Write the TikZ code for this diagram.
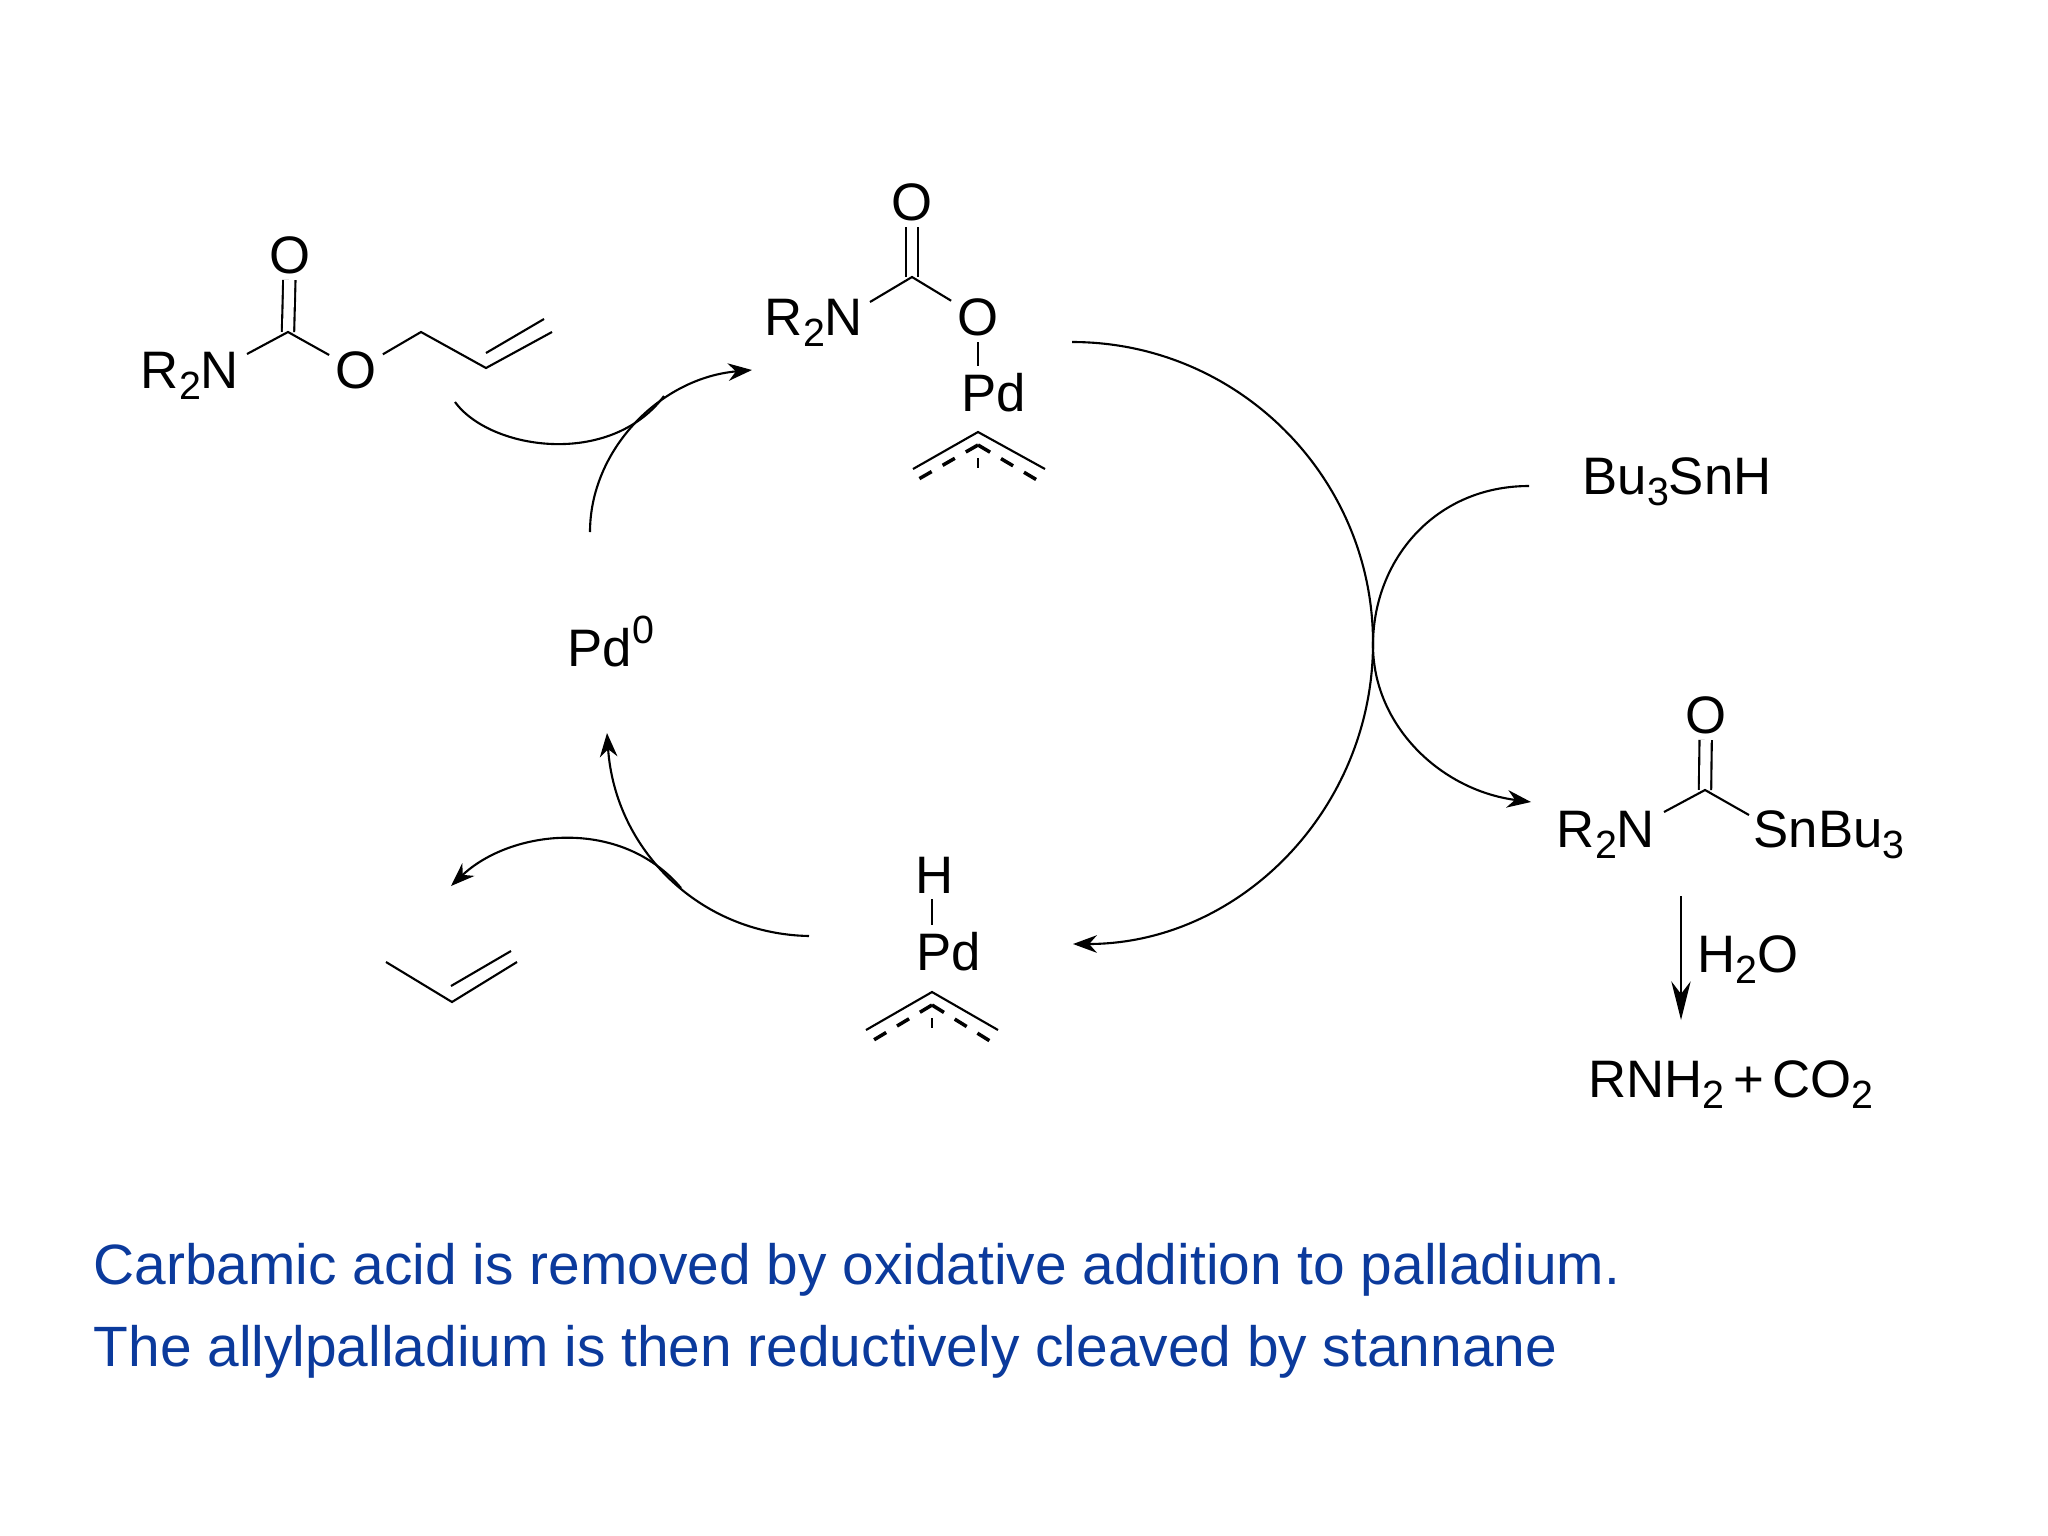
\documentclass[tikz,border=0pt]{standalone}
\usepackage{fontspec}
\setmainfont{Liberation Sans}
\usepackage{xcolor}
\usetikzlibrary{arrows.meta, calc}
\definecolor{captionblue}{HTML}{0B3A9C}
\newcommand{\chemsub}[1]{\raisebox{-0.21em}{\fontsize{11.2}{11.2}\selectfont #1}}
\newcommand{\chemsup}[1]{\raisebox{0.42em}{\fontsize{11.2}{11.2}\selectfont #1}}
\tikzset{
  atom/.style={font=\fontsize{15}{15}\selectfont, inner sep=0pt, outer sep=1.8pt},
  label/.style={atom, anchor=base},
  bond/.style={line width=0.6pt},
  dblbond/.style={bond, double, double distance=2.9pt},
  allylpi/.style={line width=1pt, dash pattern=on 4pt off 3.6pt},
  curve/.style={line width=0.6pt},
  curvetip/.style={curve, -{Stealth[length=6.8pt, width=5pt]}},
  caption/.style={font=\fontsize{16.17}{16.17}\selectfont, text=captionblue, inner sep=0pt, anchor=base west}
}
\begin{document}
\begin{tikzpicture}[x=0.01cm, y=-0.01cm]
\useasboundingbox (0,0) rectangle (2048,1536);

% Allyl carbamate
\node[label] (nr1) at (190,388) {R\chemsub{2}N};
\node[atom] (o1top) at (290,255) {O};
\node[atom] (o1) at (356,370) {O};
\coordinate (c1) at (288,332);
\coordinate (nr1end) at (247,354);
\coordinate (ch2a) at (421,332);
\coordinate (ch1) at (486,368);
\coordinate (vinyl1) at (552,332);
\coordinate (ch1in) at (486,353);
\coordinate (vinyl1in) at (544,319);
\draw[dblbond] (c1) -- (o1top);
\draw[bond] (nr1end) -- (c1) -- (o1);
\draw[bond] (o1) -- (ch2a) -- (ch1) -- (vinyl1);
\draw[bond] (ch1in) -- (vinyl1in);

% Pd adduct
\node[label] (nr2) at (814,335) {R\chemsub{2}N};
\node[atom] (o2top) at (912,202) {O};
\node[atom] (o2) at (978,317) {O};
\node[label] (pd2) at (994,411) {Pd};
\coordinate (c2) at (912,277);
\coordinate (nr2end) at (870,302);
\coordinate (apex2) at (978,432);
\coordinate (allyl2l) at (913,469);
\coordinate (allyl2r) at (1045,469);
\coordinate (pi2) at (978,445);
\coordinate (pi2l) at (917,480);
\coordinate (pi2r) at (1037,480);
\coordinate (tick2a) at (978,458);
\coordinate (tick2b) at (978,468);
\draw[dblbond] (c2) -- (o2top);
\draw[bond] (nr2end) -- (c2) -- (o2);
\draw[bond] (o2.south -| apex2) -- (pd2.north -| apex2);
\draw[bond] (allyl2l) -- (apex2) -- (allyl2r);
\draw[allylpi] (pi2) -- (pi2l);
\draw[allylpi] (pi2) -- (pi2r);
\draw[bond] (tick2a) -- (tick2b);

% Pd hydride
\node[label] (h3) at (935,893) {H};
\node[label] (pd3) at (949,970) {Pd};
\coordinate (apex3) at (932,992);
\coordinate (allyl3l) at (866,1030);
\coordinate (allyl3r) at (998,1030);
\coordinate (pi3) at (932,1005);
\coordinate (pi3l) at (872,1041);
\coordinate (pi3r) at (990,1041);
\coordinate (tick3a) at (932,1018);
\coordinate (tick3b) at (932,1028);
\draw[bond] (h3.south -| apex3) -- (pd3.north -| apex3);
\draw[bond] (allyl3l) -- (apex3) -- (allyl3r);
\draw[allylpi] (pi3) -- (pi3l);
\draw[allylpi] (pi3) -- (pi3r);
\draw[bond] (tick3a) -- (tick3b);

% Propene
\coordinate (me4) at (386,962);
\coordinate (ch4) at (452,1002);
\coordinate (vinyl4) at (517,962);
\coordinate (ch4in) at (451,986);
\coordinate (vinyl4in) at (511,951);
\draw[bond] (me4) -- (ch4) -- (vinyl4);
\draw[bond] (ch4in) -- (vinyl4in);

% Palladium(0)
\node[label] (pd0) at (611,666) {Pd\chemsup{0}};

% Stannane side
\node[label] (stannane) at (1677,494) {Bu\chemsub{3}SnH};
\node[atom] (o5top) at (1706,715) {O};
\node[label] (nr5) at (1606,847) {R\chemsub{2}N};
\node[label] (sn5) at (1829,847) {SnBu\chemsub{3}};
\coordinate (c5) at (1705,790);
\coordinate (nr5end) at (1664,812);
\coordinate (sn5end) at (1749,815);
\draw[dblbond] (c5) -- (o5top);
\draw[bond] (nr5end) -- (c5) -- (sn5end);
\node[label] (water) at (1748,972) {H\chemsub{2}O};
\node[label] (products) at (1731,1097) {RNH\chemsub{2}\,+\,CO\chemsub{2}};

% Cycle arrows
\coordinate (cyc1) at (590,532);
\coordinate (cyc1end) at (752,370);
\coordinate (add1) at (455,402);
\coordinate (add1end) at (664,396);
\coordinate (big1) at (1072,342);
\coordinate (bigmid) at (1373,643);
\coordinate (big2) at (1073,944);
\coordinate (tin1) at (1529,486);
\coordinate (tinmid) at (1373,645);
\coordinate (tin2) at (1531,802);
\coordinate (ret1) at (809,936);
\coordinate (ret2) at (607,733);
\coordinate (loss1) at (681,888);
\coordinate (loss2) at (451,886);
\draw[curvetip] (cyc1) .. controls (590,450) and (660,378) .. (cyc1end);
\draw[curve] (add1) .. controls (490,450) and (610,468) .. (add1end);
\draw[curvetip] (big1) .. controls (1238,342) and (1373,477) .. (bigmid) .. controls (1373,809) and (1240,944) .. (big2);
\draw[curvetip] (tin1) .. controls (1435,486) and (1373,560) .. (tinmid) .. controls (1373,725) and (1440,790) .. (tin2);
\draw[curvetip] (ret1) .. controls (700,934) and (615,850) .. (ret2);
\draw[curvetip] (loss1) .. controls (620,816) and (510,830) .. (loss2);
\coordinate (hyd1) at (1681,896);
\coordinate (hyd2) at (1681,1020);
\draw[bond, -{Stealth[length=11pt, width=5.5pt]}] (hyd1) -- (hyd2);

% Caption
\node[caption] (cap1) at (93,1284) {Carbamic acid is removed by oxidative addition to palladium.};
\node[caption] (cap2) at (93,1366) {The allylpalladium is then reductively cleaved by stannane};
\end{tikzpicture}
\end{document}
